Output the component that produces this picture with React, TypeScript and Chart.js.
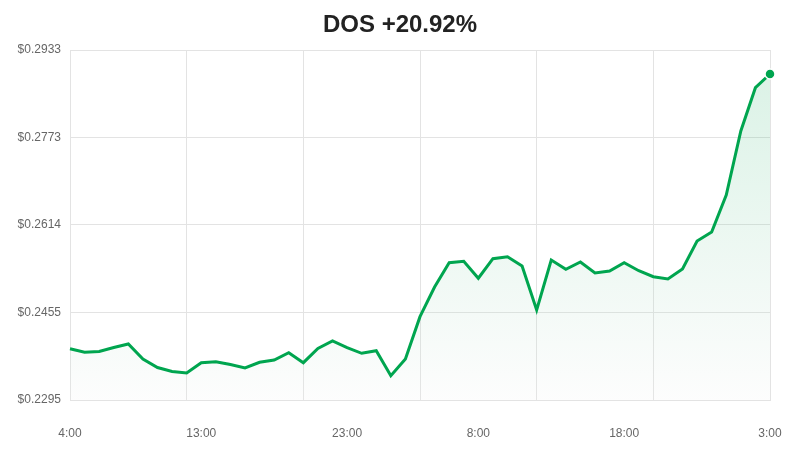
import React, { useEffect, useRef } from "react";
import { Chart, registerables } from "chart.js";

Chart.register(...registerables);

const titleText = "DOS +20.92%";

const prices: number[] = [
  0.23885, 0.2382, 0.23834, 0.23907, 0.23971, 0.23697, 0.23542, 0.2347, 0.23442,
  0.2363, 0.23648, 0.23597, 0.23533, 0.23637, 0.23679, 0.23812, 0.2363, 0.23889,
  0.24026, 0.23903, 0.23801, 0.23849, 0.23393, 0.23697, 0.24469, 0.2501, 0.25453,
  0.25478, 0.25169, 0.25526, 0.25562, 0.25393, 0.24591, 0.25502, 0.25333, 0.25466,
  0.25265, 0.25302, 0.25453, 0.25307, 0.25198, 0.25156, 0.25338, 0.25849, 0.26013,
  0.26687, 0.27854, 0.28643, 0.28893,
];

const xLabelIndices: number[] = [0, 9, 19, 28, 38, 48];
const xTickLabels: string[] = ["4:00", "13:00", "23:00", "8:00", "18:00", "3:00"];
const xGridEvery = 8;

const yMin = 0.2295;
const yMax = 0.2933;
const yTickLabels: string[] = ["$0.2295", "$0.2455", "$0.2614", "$0.2773", "$0.2933"];

const lineColor = "#00a54f";
const gridColor = "#e3e3e3";
const tickColor = "#666666";
const fontFamily = "'Liberation Sans', Arial, Helvetica, sans-serif";

export default function App() {
  const canvasRef = useRef<HTMLCanvasElement | null>(null);

  useEffect(() => {
    document.body.style.margin = "0";
    const canvas = canvasRef.current;
    if (!canvas) return;
    const lastIndex = prices.length - 1;

    const gridTickValues: number[] = [];
    for (let v = 0; v <= lastIndex; v += xGridEvery) gridTickValues.push(v);
    const allXTicks = Array.from(new Set([...gridTickValues, ...xLabelIndices])).sort((a, b) => a - b);

    const chart = new Chart(canvas, {
      type: "line",
      data: {
        datasets: [
          {
            data: prices.map((p, i) => ({ x: i, y: p })),
            borderColor: lineColor,
            borderWidth: 3,
            tension: 0,
            clip: false,
            fill: "start",
            backgroundColor: (ctx: any) => {
              const area = ctx.chart.chartArea;
              if (!area) return "rgba(0,165,79,0.1)";
              const g = ctx.chart.ctx.createLinearGradient(0, area.top, 0, area.bottom);
              g.addColorStop(0, "rgba(0,165,79,0.15)");
              g.addColorStop(1, "rgba(240,240,240,0.15)");
              return g;
            },
            pointRadius: (ctx: any) => (ctx.dataIndex === lastIndex ? 5 : 0),
            pointHoverRadius: 0,
            pointBackgroundColor: lineColor,
            pointBorderColor: "#ffffff",
            pointBorderWidth: 1.5,
          },
        ],
      },
      options: {
        animation: false,
        responsive: false,
        layout: { padding: 0 },
        plugins: {
          legend: { display: false },
          tooltip: { enabled: false },
          title: {
            display: true,
            text: titleText,
            color: "#222222",
            font: { family: fontFamily, size: 24, weight: "bold" },
            padding: { top: 11, bottom: 10.2 },
          },
        },
        scales: {
          x: {
            type: "linear",
            min: 0,
            max: lastIndex,
            afterBuildTicks: (scale: any) => {
              scale.ticks = allXTicks.map((v) => ({ value: v }));
            },
            afterFit: (scale: any) => {
              scale.height = 50;
              scale.paddingRight = 30;
              scale.paddingLeft = 0;
            },
            grid: {
              color: (ctx: any) =>
                ctx.tick && ctx.tick.value % xGridEvery === 0 ? gridColor : "rgba(0,0,0,0)",
              drawTicks: false,
            },
            border: { color: gridColor },
            ticks: {
              autoSkip: false,
              maxRotation: 0,
              padding: 26,
              color: tickColor,
              font: { family: fontFamily, size: 12 },
              callback: (value: any) => {
                const k = xLabelIndices.indexOf(Number(value));
                return k >= 0 ? xTickLabels[k] : "";
              },
            },
          },
          y: {
            type: "linear",
            min: yMin,
            max: yMax,
            afterBuildTicks: (scale: any) => {
              const n = yTickLabels.length;
              scale.ticks = yTickLabels.map((_, i) => ({ value: yMin + ((yMax - yMin) * i) / (n - 1) }));
            },
            afterFit: (scale: any) => {
              scale.width = 70;
            },
            grid: { color: gridColor, drawTicks: false },
            border: { display: false },
            ticks: {
              padding: 9,
              color: tickColor,
              font: { family: fontFamily, size: 12 },
              callback: (_v: any, index: number) => yTickLabels[index],
            },
          },
        },
      },
    } as any);

    return () => chart.destroy();
  }, []);

  return (
    <div style={{ width: 800, height: 450 }}>
      <canvas ref={canvasRef} width={800} height={450} style={{ width: 800, height: 450, display: "block" }} />
    </div>
  );
}
